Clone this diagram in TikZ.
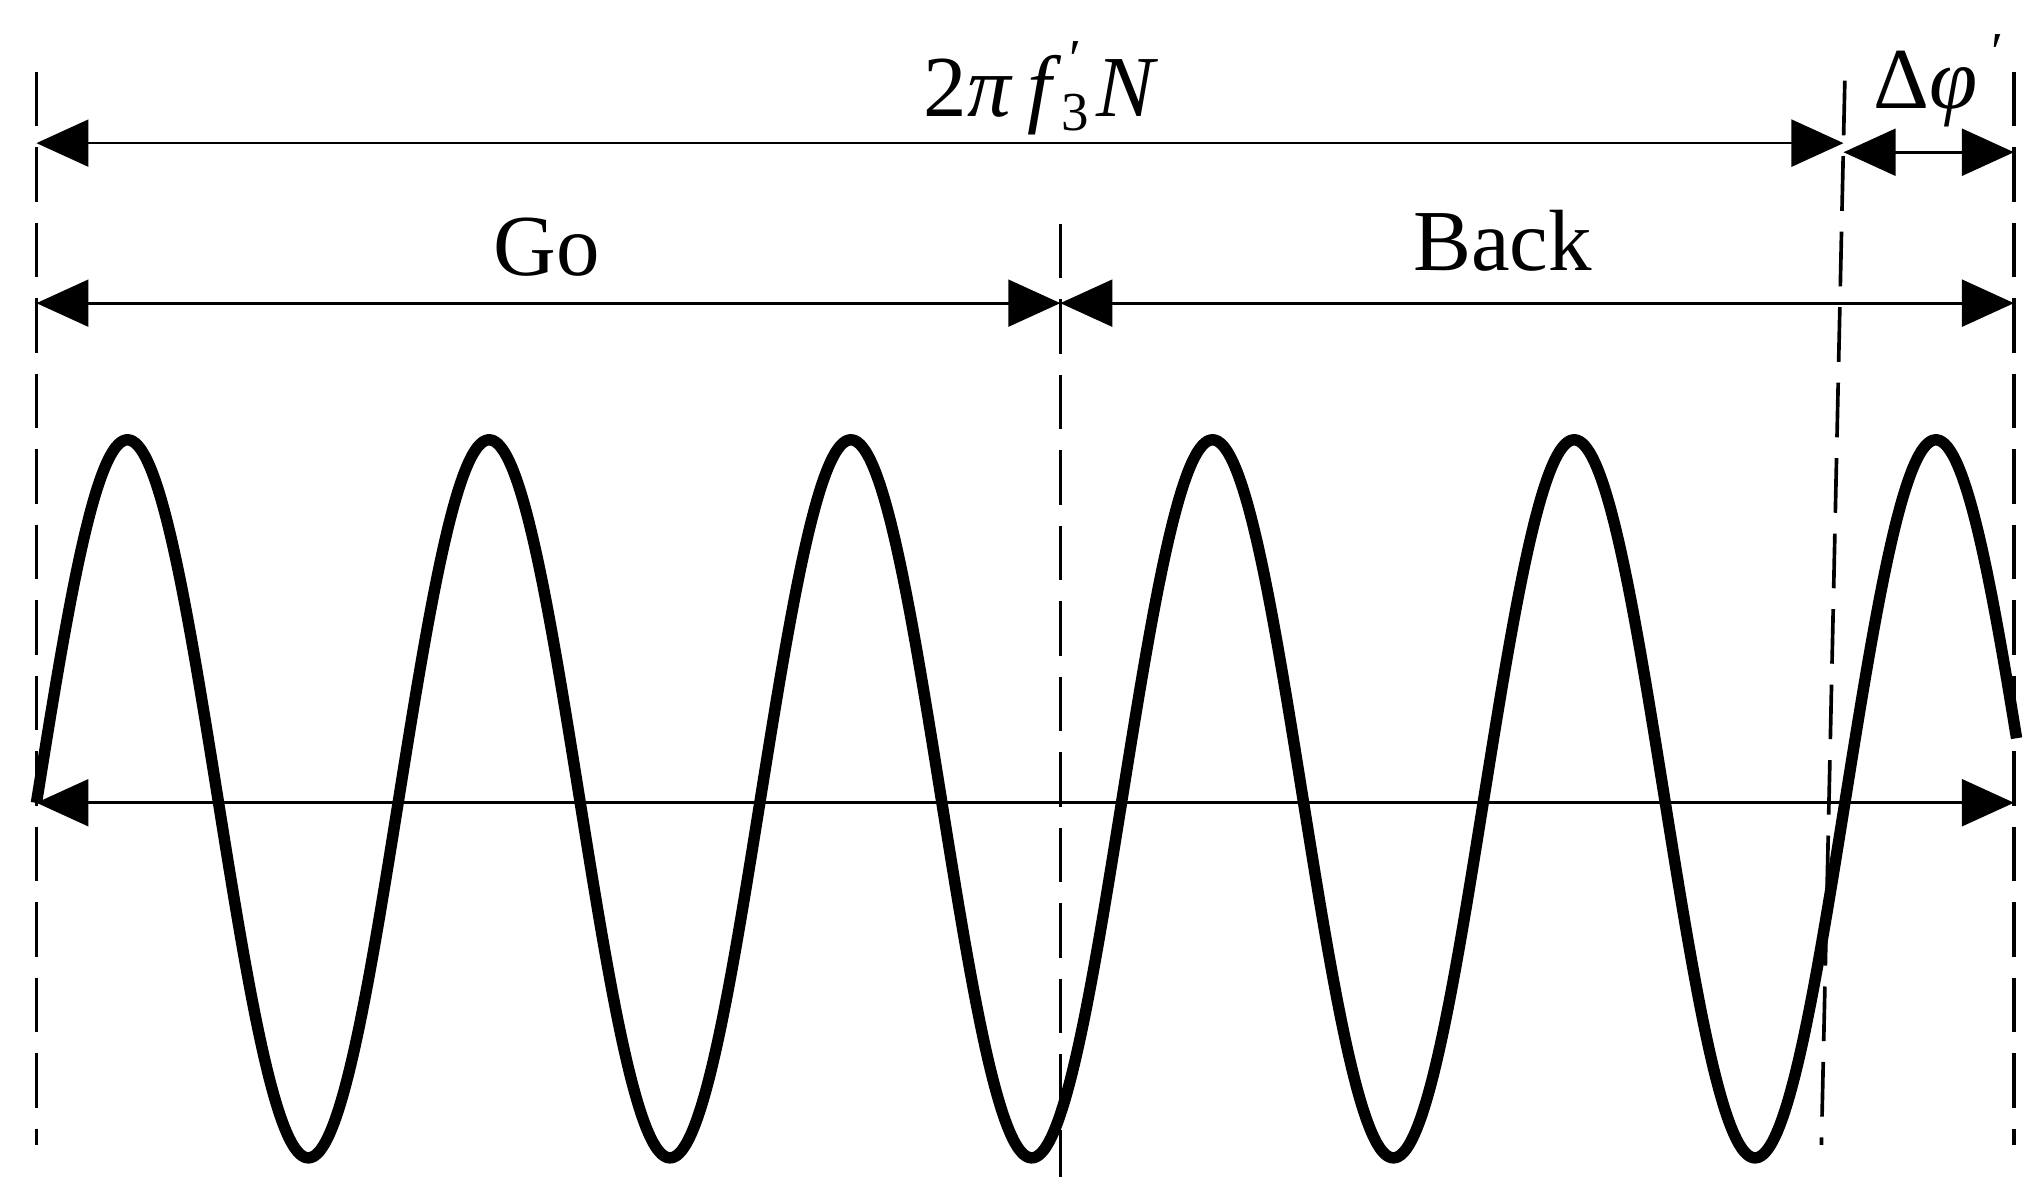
\documentclass[tikz,border=0pt]{standalone}
\usepackage{fontspec}
\setmainfont{Liberation Serif}
\usetikzlibrary{arrows.meta}
\begin{document}
\begin{tikzpicture}[x=0.01cm,y=-0.01cm,
  dim/.style={line width=0.6pt,{Triangle[length=0.4cm,width=0.36cm]}-{Triangle[length=0.4cm,width=0.36cm]}},
  guide/.style={line width=0.8pt,dash pattern=on 0.42cm off 0.16cm},
  lbl/.style={font=\fontsize{19}{22}\selectfont}]
\useasboundingbox (0,0) rectangle (1568,908);
% guides
\coordinate (L1) at (28,55); \coordinate (L2) at (28,880);
\coordinate (M1) at (815,172); \coordinate (M2) at (815,905);
\coordinate (S1) at (1418,62); \coordinate (S2) at (1400,880);
\coordinate (R1) at (1548,55); \coordinate (R2) at (1548,880);
\draw[guide] (L1) -- (L2);
\draw[guide] (M1) -- (M2);
\draw[guide] (S1) -- (S2);
\draw[guide] (R1) -- (R2);
% dimension lines
\coordinate (a1) at (28,110); \coordinate (a2) at (1417,110);
\coordinate (b1) at (1417,117); \coordinate (b2) at (1548,117);
\coordinate (c1) at (28,233); \coordinate (c2) at (815,233); \coordinate (c3) at (1548,233);
\coordinate (d1) at (28,617); \coordinate (d2) at (1548,617);
\draw[dim] (a1) -- (a2);
\draw[dim] (b1) -- (b2);
\draw[dim] (c1) -- (c2);
\draw[dim] (c2) -- (c3);
\draw[dim] (d1) -- (d2);
% labels
\node[lbl] (t1) at (800,68) {2\textit{π}\,\textit{f}{\fontsize{12}{12}\selectfont\raisebox{-0.25em}{3}\hspace{-0.35em}\raisebox{0.7em}{′}}\,\textit{N}};
\node[lbl] (t2) at (1490,62) {Δ\textit{φ}\,{\fontsize{12}{12}\selectfont\raisebox{0.7em}{′}}};
\node[lbl] (t3) at (420,190) {Go};
\node[lbl] (t4) at (1155,185) {Back};
% sine
\draw[line width=2.5pt,line join=round] plot[domain=28:1550,samples=400,smooth] (\x,{614-276*sin(((\x-28.5)/278)*360)});
\end{tikzpicture}
\end{document}
